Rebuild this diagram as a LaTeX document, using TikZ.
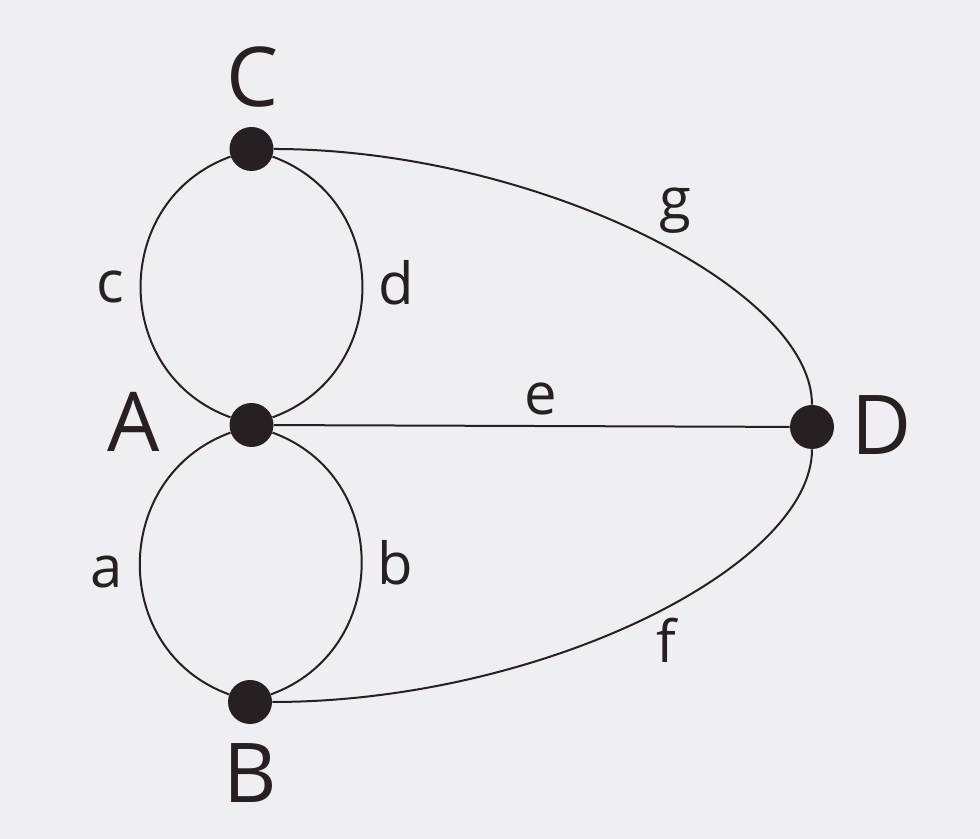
\documentclass[tikz,border=0pt]{standalone}
\usepackage{fontspec}
\setmainfont{Open Sans}
\usepackage{tikz}
\definecolor{paper}{RGB}{239,239,242}
\definecolor{ink}{RGB}{38,32,34}

\begin{document}
\begin{tikzpicture}[dot/.style={circle, fill=ink, inner sep=0pt, minimum size=0.88cm},
    vlabel/.style={anchor=base, text=ink, font=\fontsize{47}{47}\selectfont},
    elabel/.style={anchor=base, text=ink, font=\fontsize{33}{33}\selectfont},
    bridge/.style={draw=ink, line width=0.04cm}]
                \fill[paper](0,0) rectangle (19.6,16.78);
                % land masses
                \node[dot] (C) at (5.03,13.80) {};
                \node[dot] (A) at (5.03,8.28) {};
                \node[dot] (B) at (5.00,2.74) {};
                \node[dot] (D) at (16.24,8.24) {};
                % bridges
                \draw[bridge](C) .. controls +(200:3) and +(160:3) .. (A);
                \draw[bridge](C) .. controls +(-20:3) and +(20:3) .. (A);
                \draw[bridge](A) .. controls +(200:3) and +(160:3) .. (B);
                \draw[bridge](A) .. controls +(-20:3) and +(20:3) .. (B);
                \draw[bridge](A) -- (D);
                \draw[bridge](C) .. controls +(5.6,0) and +(0,2.8) .. (D);
                \draw[bridge](B) .. controls +(5.8,0) and +(0,-2.8) .. (D);
                \node[vlabel] (labC) at (5.06,14.64){C};
                \node[vlabel] (labA) at (2.68,7.74){A};
                \node[vlabel] (labB) at (5.00,0.72){B};
                \node[vlabel] (labD) at (17.64,7.68){D};
                \node[elabel] (labc) at (2.20,10.72){c};
                \node[elabel] (labd) at (7.92,10.68){d};
                \node[elabel] (labg) at (13.50,12.38){g};
                \node[elabel] (labe) at (10.82,8.48){e};
                \node[elabel] (laba) at (2.14,5.02){a};
                \node[elabel] (labb) at (7.90,5.08){b};
                \node[elabel] (labf) at (13.32,3.52){f};
            \end{tikzpicture}
\end{document}
